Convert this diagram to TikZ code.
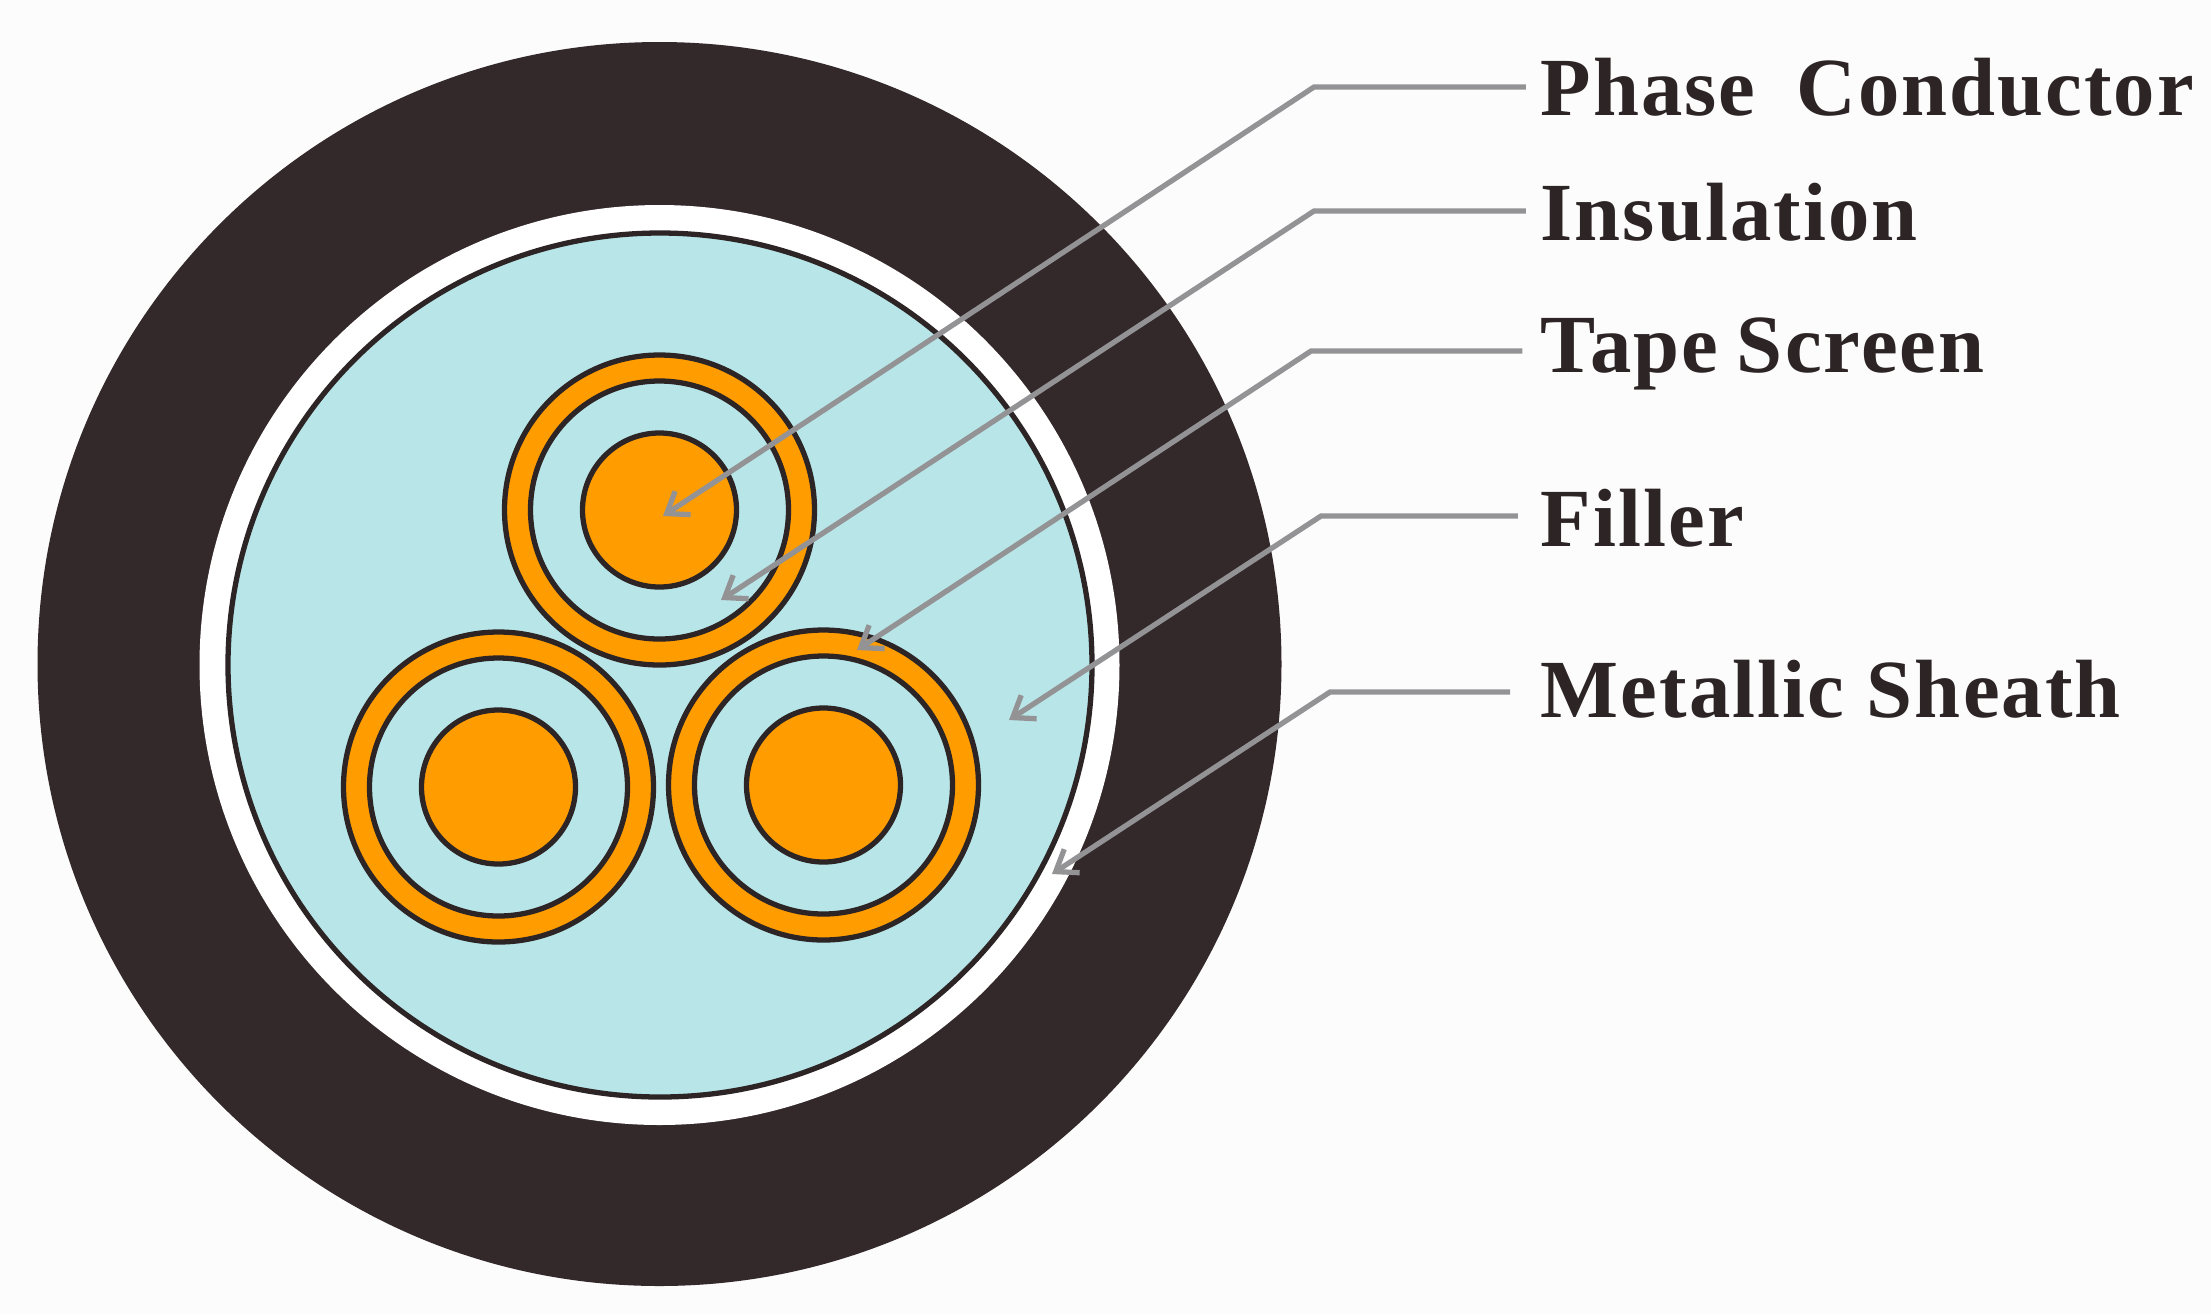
\documentclass[tikz,border=0pt]{standalone}
\usepackage{fontspec}
\newfontfamily\labelfont[LetterSpace=2.5]{Liberation Serif}
\usetikzlibrary{arrows.meta}
\definecolor{sheathcol}{HTML}{33282A}
\definecolor{fillercol}{HTML}{B8E6E8}
\definecolor{coppercol}{HTML}{FF9C00}
\definecolor{inkcol}{HTML}{2C2425}
\definecolor{leadercol}{HTML}{939395}
\tikzset{
	part/.style={draw=inkcol, line width=1.5pt},
	leader/.style={draw=leadercol, line width=1.5pt, -{Straight Barb[length=5.5pt,width=8pt,line width=1.5pt]}},
	lbl/.style={anchor=base west, inner sep=0pt, text=inkcol, font=\labelfont\bfseries\fontsize{23.5}{28}\selectfont}
}
\def\cablecore(#1,#2){
	\draw[part, fill=coppercol] (#1, #2) circle (155);
	\draw[part, fill=fillercol] (#1, #2) circle (129);
	\draw[part, fill=coppercol] (#1, #2) circle (77);
}

\begin{document}
\begin{tikzpicture}[x=0.01cm, y=-0.01cm]
		%%%%% START %%%%%
		
		\useasboundingbox[fill=black!1] (0, 0) rectangle (2211, 1314);
		
		\fill[sheathcol] (659.5, 664) circle (622);
		\fill[white] (659.5, 665) circle (460);
		\draw[part, fill=fillercol] (660, 665) circle (432);
		
		\cablecore(659.5, 510)
		\cablecore(498.5, 787)
		\cablecore(823.5, 785)
		
		\node[lbl] (lblPhase) at (1540, 115) {Phase\hspace{0.22em} Conductor};
		\node[lbl] (lblInsulation) at (1540, 240) {Insulation};
		\node[lbl] (lblTape) at (1540, 372) {Tape\hspace{-0.05em} Screen};
		\node[lbl] (lblFiller) at (1540, 546) {Filler};
		\node[lbl] (lblSheath) at (1540, 717) {Metallic Sheath};
		
		\coordinate (bendPhase) at (1314, 87);
		\coordinate (bendInsulation) at (1314, 211);
		\coordinate (bendTape) at (1311, 351);
		\coordinate (bendFiller) at (1321, 516);
		\coordinate (bendSheath) at (1330, 692);
		
		\coordinate (tipPhase) at (663, 516);
		\coordinate (tipInsulation) at (721, 600);
		\coordinate (tipTape) at (857, 650);
		\coordinate (tipFiller) at (1009, 720);
		\coordinate (tipSheath) at (1052, 874);
		
		\draw[leader, shorten <=4pt] (lblPhase.west |- bendPhase) -- (bendPhase) -- (tipPhase);
		\draw[leader, shorten <=4pt] (lblInsulation.west |- bendInsulation) -- (bendInsulation) -- (tipInsulation);
		\draw[leader, shorten <=5pt] (lblTape.west |- bendTape) -- (bendTape) -- (tipTape);
		\draw[leader, shorten <=6.3pt] (lblFiller.west |- bendFiller) -- (bendFiller) -- (tipFiller);
		\draw[leader, shorten <=8.5pt] (lblSheath.west |- bendSheath) -- (bendSheath) -- (tipSheath);
		
		%%%%% END %%%%%
	\end{tikzpicture}
\end{document}
